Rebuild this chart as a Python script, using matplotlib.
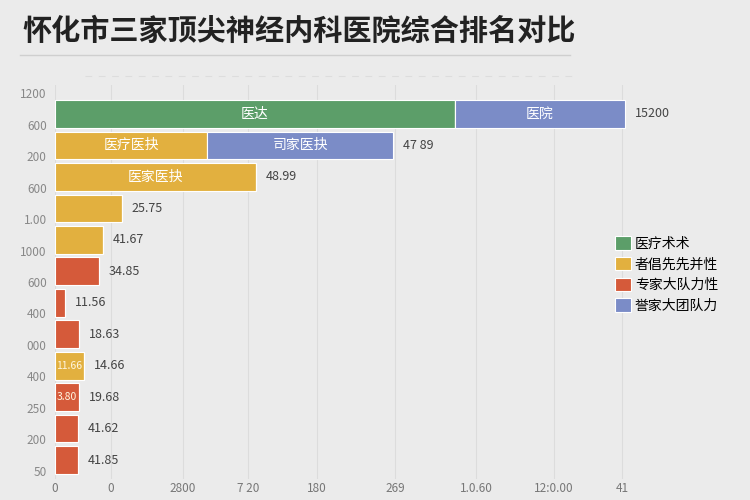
import matplotlib
matplotlib.use('Agg')

import numpy as np
import matplotlib.pyplot as plt
from matplotlib.lines import Line2D

plt.rcParams['font.family'] = ['Noto Sans CJK SC', 'DejaVu Sans']

# chart data
title = '怀化市三家顶尖神经内科医院综合排名对比'
series_names = ['医疗术术', '者倡先先并性', '专家大队力性', '誉家大团队力']
green = [10667, 0, 0, 0, 0, 0, 0, 0, 0, 0, 0, 0]
yellow = [0, 4053, 5360, 1787, 1272, 0, 0, 0, 773, 0, 0, 0]
red = [0, 0, 0, 0, 0, 1181, 267, 640, 0, 648, 613, 621]
blue = [4533, 4960, 0, 0, 0, 0, 0, 0, 0, 0, 0, 0]
green_text = ['医达', '', '', '', '', '', '', '', '', '', '', '']
yellow_text = ['', '医疗医抉', '医家医抉', '', '', '', '', '', '11.66', '', '', '']
red_text = ['', '', '', '', '', '', '', '', '', '3.80', '', '']
blue_text = ['医院', '司家医抉', '', '', '', '', '', '', '', '', '', '']
value_labels = ['15200', '47 89', '48.99', '25.75', '41.67', '34.85',
                '11.56', '18.63', '14.66', '19.68', '41.62', '41.85']
ytick_labels = ['1200', '600', '200', '600', '1.00', '1000', '600',
                '400', '000', '400', '250', '200', '50']
xtick_pos = [0, 1493, 3413, 5147, 6987, 9067, 11227, 13307, 15120]
xtick_labels = ['0', '0', '2800', '7 20', '180', '269', '1.0.60', '12:0.00', '41']

colors = ['#5c9e69', '#e2b03f', '#d55a3a', '#7b8cc7']
bg = '#ebebeb'

fig = plt.figure(figsize=(7.5, 5), dpi=100, facecolor=bg)
ax = fig.add_axes([55 / 750, 21 / 500, 685 / 750, 394 / 500], facecolor=bg)

y = np.arange(len(green))
left = np.zeros(len(green))
for vals, texts, col, name in zip([green, yellow, red, blue],
                                  [green_text, yellow_text, red_text, blue_text],
                                  colors, series_names):
    vals = np.array(vals, dtype=float)
    ax.barh(y, vals, left=left, height=0.88, color=col, edgecolor='white',
            linewidth=0.8, label=name, zorder=3)
    for i, t in enumerate(texts):
        if t and vals[i] > 0:
            small = t[0].isdigit()
            ax.text(left[i] + vals[i] / 2, y[i], t, ha='center', va='center',
                    color='#fff6e0' if small else 'white',
                    fontsize=7.5 if small else 10, zorder=4)
    left = left + vals

for i, lab in enumerate(value_labels):
    ax.annotate(lab, (left[i], y[i]), xytext=(7, 0), textcoords='offset points',
                ha='left', va='center', fontsize=9, color='#444444', zorder=4)

ax.set_xlim(0, 18267)
ax.set_ylim(11.6, -0.92)
ax.set_xticks(xtick_pos)
ax.set_xticklabels(xtick_labels, fontsize=8.5, color='#777777')
ax.set_yticks(np.arange(len(ytick_labels)) - 0.66)
ax.set_yticklabels(ytick_labels, fontsize=8.5, color='#888888')
ax.tick_params(axis='y', length=0, pad=6)
ax.tick_params(axis='x', length=0, pad=2)
ax.xaxis.grid(True, color='#dcdcdc', linewidth=0.8, zorder=0)
ax.set_axisbelow(True)
for s in ax.spines.values():
    s.set_visible(False)

ax.legend(loc='upper left', bbox_to_anchor=(0.81, 0.63), frameon=False,
          fontsize=10, handlelength=1.1, handleheight=1.1, handletextpad=0.3,
          labelspacing=0.45, borderaxespad=0)

fig.text(22 / 750, 1 - 31 / 500, title, fontsize=21, fontweight='bold',
         color='#222222', ha='left', va='center')
fig.add_artist(Line2D([20 / 750, 570 / 750], [1 - 55 / 500, 1 - 55 / 500],
                      color='#cfcfcf', linewidth=1))
fig.add_artist(Line2D([85 / 750, 575 / 750], [1 - 76 / 500, 1 - 76 / 500],
                      color='#dddddd', linewidth=0.8, linestyle=(0, (6, 6))))

fig.savefig('out.png', dpi=100, facecolor=bg)
